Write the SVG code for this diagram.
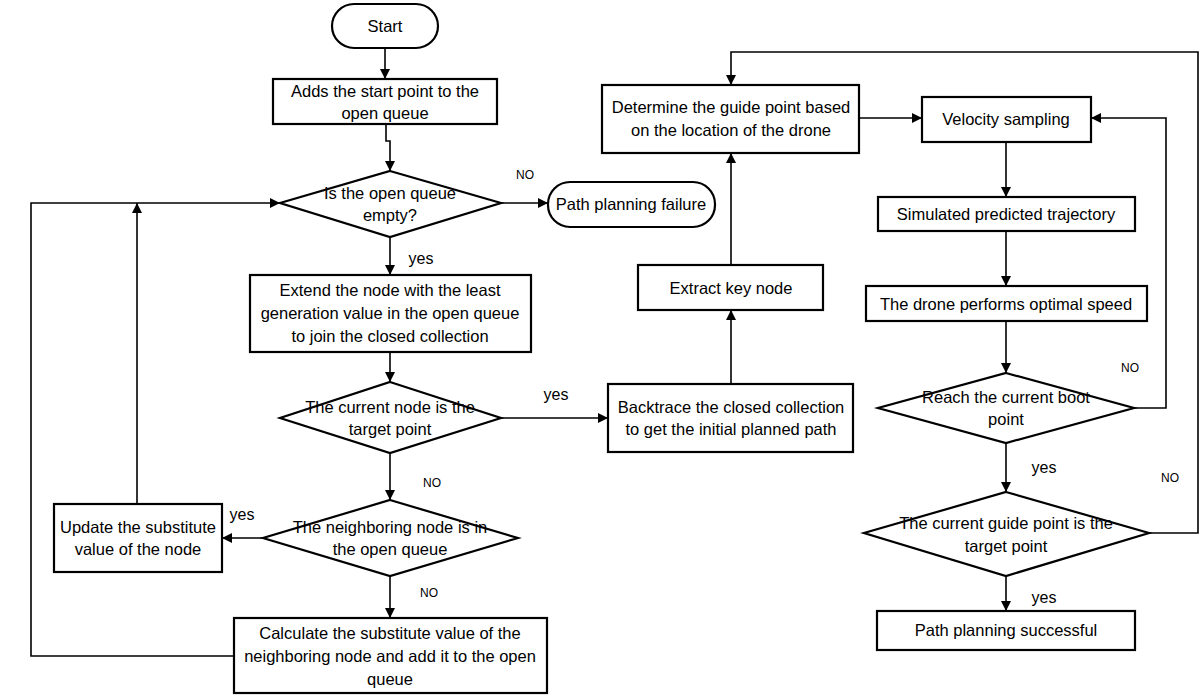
<svg xmlns="http://www.w3.org/2000/svg" width="1200" height="697" viewBox="0 0 1200 697">
<defs>
<marker id="ah" viewBox="0 0 10 10" refX="10" refY="5" markerWidth="10" markerHeight="10" markerUnits="userSpaceOnUse" orient="auto"><path d="M0,0 L10,5 L0,10 z" fill="#000"/></marker>
<style>
.n{fill:#fff;stroke:#000;stroke-width:2.2}
.t{font-family:"Liberation Sans",Arial,sans-serif;font-size:16.5px;fill:#000;text-anchor:middle;dominant-baseline:central}
.l{font-family:"Liberation Sans",Arial,sans-serif;font-size:16px;fill:#000;text-anchor:middle;dominant-baseline:central}
.s{font-family:"Liberation Sans",Arial,sans-serif;font-size:12px;fill:#000;text-anchor:middle;dominant-baseline:central}
.c{fill:none;stroke:#000;stroke-width:1.6;marker-end:url(#ah)}
</style>
</defs>
<rect width="1200" height="697" fill="#fff"/>
<g id="connectors">
<path class="c" d="M385,48 V79"/>
<path class="c" d="M386,124 V141 H390 V171"/>
<path class="c" d="M501,203 H548"/>
<path class="c" d="M390,237 V275"/>
<path class="c" d="M390,352 V382"/>
<path class="c" d="M501,418 H608"/>
<path class="c" d="M390,453 V500"/>
<path class="c" d="M263,538 H222"/>
<path class="c" d="M137,504 V203"/>
<path class="c" d="M390,576 V618"/>
<path class="c" d="M234,656 H31 V203 H280"/>
<path class="c" d="M731,384 V310"/>
<path class="c" d="M731,265 V153"/>
<path class="c" d="M859,118 H922"/>
<path class="c" d="M1006,142 V197"/>
<path class="c" d="M1006,231 V286"/>
<path class="c" d="M1006,321 V373"/>
<path class="c" d="M1134,408 H1166 V118 H1091"/>
<path class="c" d="M1006,443 V492"/>
<path class="c" d="M1149,533 H1198 V52 H731 V85"/>
<path class="c" d="M1006,576 V611"/>
</g>
<g id="labels">
<text class="s" x="525" y="175">NO</text>
<text class="l" x="421" y="258">yes</text>
<text class="l" x="556" y="394">yes</text>
<text class="s" x="432" y="483">NO</text>
<text class="l" x="242" y="514">yes</text>
<text class="s" x="429" y="593">NO</text>
<text class="s" x="1130" y="368">NO</text>
<text class="l" x="1044" y="467">yes</text>
<text class="s" x="1170" y="478">NO</text>
<text class="l" x="1044" y="597">yes</text>
</g>
<g id="start"><rect class="n" x="332" y="4" width="106" height="44" rx="22"/><text class="t" x="385" y="26">Start</text></g>
<g id="adds"><rect class="n" x="273" y="79" width="224" height="45"/><text class="t" x="385" y="91">Adds the start point to the</text><text class="t" x="385" y="113">open queue</text></g>
<g id="d-empty"><polygon class="n" points="390,171 501,203 390,237 280,203"/><text class="t" x="390" y="193">Is the open queue</text><text class="t" x="390" y="215">empty?</text></g>
<g id="fail"><rect class="n" x="548" y="182" width="167" height="45" rx="22"/><text class="t" x="631" y="204">Path planning failure</text></g>
<g id="extend"><rect class="n" x="250" y="275" width="281" height="77"/><text class="t" x="390" y="290">Extend the node with the least</text><text class="t" x="390" y="313">generation value in the open queue</text><text class="t" x="390" y="336">to join the closed collection</text></g>
<g id="d-target"><polygon class="n" points="390,382 501,418 390,453 280,418"/><text class="t" x="390" y="407">The current node is the</text><text class="t" x="390" y="429">target point</text></g>
<g id="d-neigh"><polygon class="n" points="390,500 518,538 390,576 263,538"/><text class="t" x="390" y="527">The neighboring node is in</text><text class="t" x="390" y="549">the open queue</text></g>
<g id="update"><rect class="n" x="54" y="504" width="168" height="68"/><text class="t" x="138" y="527">Update the substitute</text><text class="t" x="138" y="549">value of the node</text></g>
<g id="calc"><rect class="n" x="234" y="618" width="313" height="75"/><text class="t" x="390" y="633">Calculate the substitute value of the</text><text class="t" x="390" y="656">neighboring node and add it to the open</text><text class="t" x="390" y="679">queue</text></g>
<g id="backtrace"><rect class="n" x="608" y="384" width="245" height="68"/><text class="t" x="731" y="407">Backtrace the closed collection</text><text class="t" x="731" y="429">to get the initial planned path</text></g>
<g id="extract"><rect class="n" x="638" y="265" width="185" height="45"/><text class="t" x="731" y="288">Extract key node</text></g>
<g id="determine"><rect class="n" x="602" y="85" width="257" height="68"/><text class="t" x="731" y="107">Determine the guide point based</text><text class="t" x="731" y="130">on the location of the drone</text></g>
<g id="velocity"><rect class="n" x="922" y="97" width="169" height="45"/><text class="t" x="1006" y="119">Velocity sampling</text></g>
<g id="simulated"><rect class="n" x="878" y="197" width="257" height="34"/><text class="t" x="1006" y="214">Simulated predicted trajectory</text></g>
<g id="drone"><rect class="n" x="866" y="286" width="281" height="35"/><text class="t" x="1006" y="304">The drone performs optimal speed</text></g>
<g id="d-boot"><polygon class="n" points="1006,373 1134,408 1006,443 878,408"/><text class="t" x="1006" y="397">Reach the current boot</text><text class="t" x="1006" y="419">point</text></g>
<g id="d-guide"><polygon class="n" points="1006,492 1149,533 1006,576 864,533"/><text class="t" x="1006" y="523">The current guide point is the</text><text class="t" x="1006" y="546">target point</text></g>
<g id="success"><rect class="n" x="877" y="611" width="258" height="39"/><text class="t" x="1006" y="630">Path planning successful</text></g>
</svg>
